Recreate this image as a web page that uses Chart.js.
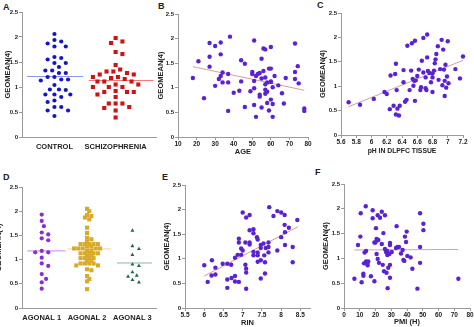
<!DOCTYPE html>
<html>
<head>
<meta charset="UTF-8">
<title>GEOMEAN(4) panels</title>
<script src="https://cdn.jsdelivr.net/npm/chart.js@4.4.0/dist/chart.umd.min.js"></script>
<style>
  body { margin: 0; width: 474px; height: 327px; position: relative; overflow: hidden; background: #fff;
         font-family: 'Liberation Sans', Arial, sans-serif; }
  canvas { position: absolute; }
  .tag { position: absolute; font-weight: bold; font-size: 9px; color: #222; }
</style>
</head>
<body>
<div class="tag" style="left:3px;top:2px">A</div>
<div class="tag" style="left:158px;top:1px">B</div>
<div class="tag" style="left:317px;top:0px">C</div>
<div class="tag" style="left:3px;top:172px">D</div>
<div class="tag" style="left:162px;top:172px">E</div>
<div class="tag" style="left:315px;top:167px">F</div>
<canvas id="cA"></canvas>
<canvas id="cB"></canvas>
<canvas id="cC"></canvas>
<canvas id="cD"></canvas>
<canvas id="cE"></canvas>
<canvas id="cF"></canvas>
<script>
// ---- data ----
const yTicks = [0, 0.5, 1, 1.5, 2, 2.5];

// A: control vs schizophrenia
const groupsA = ['CONTROL', 'SCHIZOPHRENIA'];
const control = [2.06, 1.94, 1.91, 1.87, 1.81, 1.81, 1.60, 1.58, 1.55, 1.48, 1.48, 1.40, 1.33, 1.33, 1.28, 1.28,
                 1.20, 1.20, 1.15, 1.15, 1.13, 1.04, 0.95, 0.95, 0.94, 0.85, 0.85, 0.85, 0.80, 0.73, 0.70,
                 0.60, 0.60, 0.53, 0.53, 0.42];
const schizo = [1.98, 1.91, 1.88, 1.70, 1.66, 1.44, 1.35, 1.31, 1.31, 1.28, 1.25, 1.25, 1.20, 1.20, 1.18, 1.16,
                1.11, 1.11, 1.11, 1.05, 1.05, 1.00, 1.00, 1.00, 0.92, 0.90, 0.90, 0.90, 0.85, 0.80,
                0.67, 0.67, 0.67, 0.60, 0.58, 0.53, 0.39];
const meansA = [1.21, 1.13];
const meanSpanA = [[-0.45, 0.47], [0.56, 1.62]];

// B: age
const ageTicks = [10, 20, 30, 40, 50, 60, 70, 80];
const ageData = [[18,1.20],[21,1.54],[24,0.79],[27,1.91],[27,1.63],[27,1.43],[30,1.85],[30,1.04],[32,1.18],
  [33,1.92],[33,1.68],[33,1.24],[34,1.31],[34,1.11],[37,1.28],[37,1.11],[37,0.53],[38,2.04],[40,0.90],
  [43,0.94],[44,1.56],[44,1.13],[46,1.49],[46,0.61],[49,0.93],[50,1.32],[50,1.28],[51,1.14],[51,0.99],
  [51,0.65],[51,1.96],[52,0.41],[52,1.24],[53,1.28],[54,1.30],[54,0.86],[54,0.82],[55,1.59],[55,1.19],
  [55,0.60],[56,1.80],[56,1.34],[57,1.21],[57,0.96],[57,0.88],[57,1.78],[57,1.07],[58,0.92],[58,1.11],
  [58,0.69],[59,0.54],[59,1.39],[60,1.12],[60,0.76],[60,1.83],[60,1.39],[60,1.13],[61,1.01],[61,0.67],
  [61,0.41],[62,1.24],[64,1.05],[66,0.89],[67,0.68],[68,1.20],[73,1.90],[73,1.32],[73,1.18],[74.5,1.44],
  [75,1.09],[78,0.58],[78,0.53]];
const ageFit = [[18, 1.43], [78, 0.95]];

// C: pH
const phTicks = [5.6, 5.8, 6, 6.2, 6.4, 6.6, 6.8, 7, 7.2];
const phData = [[5.70,0.67],[5.85,0.62],[6.03,0.74],[6.17,0.88],[6.20,0.84],[6.24,0.53],[6.25,1.22],[6.29,0.60],
  [6.31,1.25],[6.32,1.46],[6.32,0.42],[6.33,0.92],[6.34,0.54],[6.36,0.40],[6.37,0.60],[6.42,1.33],[6.42,1.08],
  [6.44,0.68],[6.46,0.72],[6.47,1.83],[6.50,0.92],[6.52,1.32],[6.53,1.88],[6.54,1.15],[6.55,1.01],[6.56,1.11],
  [6.57,1.93],[6.57,0.70],[6.58,1.12],[6.60,1.21],[6.62,1.34],[6.64,0.92],[6.65,0.98],[6.66,1.52],[6.68,1.99],
  [6.68,1.28],[6.71,1.18],[6.71,0.96],[6.72,0.92],[6.73,2.06],[6.73,1.59],[6.74,1.31],[6.76,1.27],[6.78,1.08],
  [6.80,0.88],[6.80,1.18],[6.80,1.26],[6.82,1.32],[6.83,1.47],[6.84,1.55],[6.85,1.66],[6.87,1.82],[6.88,1.13],
  [6.90,1.35],[6.92,1.95],[6.93,1.02],[6.94,1.75],[6.95,1.34],[6.96,0.80],[6.96,1.11],[6.97,1.44],[6.98,0.97],
  [6.99,1.20],[7.00,1.92],[7.01,1.06],[7.10,1.35],[7.16,1.16],[7.20,1.61]];
const phFit = [[5.70, 0.58], [7.20, 1.53]];

// D: agonal groups
const groupsD = ['AGONAL 1', 'AGONAL 2', 'AGONAL 3'];
const agonal1 = [1.93, 1.80, 1.69, 1.56, 1.52, 1.44, 1.40, 1.18, 1.15, 1.15, 1.04, 0.92, 0.87, 0.70, 0.60, 0.53, 0.40];
const agonal2 = [2.05, 2.00, 1.92, 1.90, 1.87, 1.83, 1.66, 1.55, 1.45, 1.42, 1.37,
                 1.32, 1.32, 1.32, 1.32, 1.32, 1.27, 1.27, 1.23, 1.23, 1.23, 1.23, 1.23, 1.18, 1.18,
                 1.13, 1.13, 1.13, 1.13, 1.13, 1.08, 1.08, 1.03, 1.03, 1.03, 1.03, 0.98, 0.98,
                 0.92, 0.92, 0.92, 0.92, 0.88, 0.88, 0.80, 0.78, 0.66, 0.60, 0.55, 0.39];
const agonal3 = [1.60, 1.28, 1.22, 1.10, 0.90, 0.87, 0.74, 0.67, 0.65, 0.58, 0.53];
const meansD = [1.18, 1.22, 0.93];
const meanSpanD = [[-0.32, 0.53], [0.57, 1.53], [1.66, 2.43]];

// E: RIN
const rinTicks = [5.5, 6, 6.5, 7, 7.5, 8, 8.5];
const rinData = [[6.0,0.87],[6.09,0.53],[6.19,0.66],[6.2,0.97],[6.29,0.82],[6.29,0.68],[6.48,0.90],[6.6,0.90],
  [6.6,0.58],[6.6,0.41],[6.7,0.88],[6.71,0.61],[6.8,0.65],[6.8,1.02],[6.8,0.54],[6.87,1.08],[6.9,0.53],[6.9,1.41],
  [6.9,1.33],[6.96,1.21],[6.96,1.08],[7.0,1.94],[7.0,1.17],[7.07,1.33],[7.07,0.88],[7.09,1.84],[7.09,0.80],
  [7.09,0.72],[7.09,0.39],[7.18,1.89],[7.18,1.33],[7.18,1.29],[7.18,1.58],[7.28,1.60],[7.28,1.52],[7.28,1.14],
  [7.28,1.07],[7.37,1.44],[7.39,1.39],[7.39,1.13],[7.39,1.07],[7.39,0.94],[7.47,1.28],[7.47,1.22],[7.47,0.97],
  [7.47,0.60],[7.54,1.31],[7.56,1.07],[7.58,0.93],[7.58,0.70],[7.6,1.22],[7.67,1.33],[7.67,1.24],[7.67,1.13],
  [7.69,2.05],[7.8,1.87],[7.9,1.97],[7.9,1.17],[8.0,1.94],[8.0,1.44],[8.09,1.89],[8.09,1.69],[8.1,1.54],
  [8.1,1.28],[8.2,1.63],[8.3,1.24],[8.3,0.93],[8.42,1.79]];
const rinFit = [[6.0, 0.65], [8.43, 1.65]];

// F: PMI
const pmiTicks = [0, 10, 20, 30, 40, 50, 60, 70, 80];
const pmiData = [[6.6,0.59],[8.9,1.27],[10.6,1.91],[10.4,1.44],[11.2,0.52],[12.3,0.69],[12.3,0.65],[12.7,0.90],
  [13.1,1.12],[13.8,2.05],[14,1.15],[14,0.94],[14.8,0.90],[15,0.86],[15.4,0.94],[17.1,0.64],[18.2,1.97],
  [18.2,1.81],[19.3,0.54],[19.3,1.32],[20,1.32],[20.3,1.61],[20.7,1.39],[20.7,1.09],[21.4,1.87],[21.4,0.99],
  [21.8,1.37],[22.2,0.91],[22.9,1.82],[24,1.94],[24,1.29],[24.6,0.87],[25,1.51],[25.4,0.74],[26,1.87],
  [26,1.19],[26.7,1.13],[27,0.71],[27.5,1.15],[27.5,1.07],[27.7,0.40],[28.1,0.81],[28.8,1.09],[29.2,1.31],
  [29.2,1.27],[29.2,0.87],[29.2,0.61],[30.3,1.13],[33,1.21],[33.4,1.65],[34,1.23],[34.9,1.23],[36.2,1.10],
  [37.2,1.17],[37.7,0.97],[38.3,0.95],[38.7,1.44],[39.4,1.33],[39.8,1.54],[40.2,1.05],[42.3,1.02],[43.4,0.79],
  [46.6,0.39],[48.3,1.91],[48.3,1.23],[48.3,0.91],[50.4,1.70],[50.4,1.57],[72.6,0.59]];
const pmiFit = [[6.6, 1.17], [72.6, 1.18]];

// ---- helpers ----
const FONT = "'Liberation Sans', Arial, sans-serif";
const AXIS = '#9a9a9a';
const PURPLE = '#5a22d2';

// column scatter layout: each value goes to the nearest free horizontal slot
function swarm(values, center, pxX, pxY, gap, step) {
  const placed = [];
  const out = [];
  const order = values.map((v, i) => i).sort((a, b) => values[b] - values[a]);
  order.forEach(i => {
    const py = values[i] * pxY;
    for (let k = 0; ; k++) {
      const off = (k % 2 ? 1 : -1) * Math.ceil(k / 2) * step;
      if (placed.every(p => Math.hypot(p.x - off, p.y - py) >= gap)) {
        placed.push({x: off, y: py});
        out[i] = {x: center + off / pxX, y: values[i]};
        break;
      }
    }
  });
  return out;
}

const pts = arr => arr.map(p => ({x: p[0], y: p[1]}));

function dots(data, color, style, r) {
  return {data, pointStyle: style || 'circle', pointRadius: r || 2.2, backgroundColor: color,
          borderColor: color, borderWidth: 0, clip: false};
}
function seg(data, color) {
  return {data, showLine: true, pointRadius: 0, borderColor: color, borderWidth: 1, clip: false};
}

function panel(id, box, x, y, datasets) {
  const cv = document.getElementById(id);
  cv.width = box.w; cv.height = box.h;
  cv.style.left = box.x + 'px'; cv.style.top = box.y + 'px';
  new Chart(cv, {
    type: 'scatter',
    data: {datasets},
    options: {
      responsive: false, animation: false, events: [],
      layout: {padding: {left: 0, top: box.t, right: box.w - box.r, bottom: 0}},
      plugins: {legend: {display: false}, tooltip: {enabled: false}},
      scales: {
        x: {
          type: 'linear', min: x.min, max: x.max,
          afterBuildTicks: s => { s.ticks = x.ticks.map(v => ({value: v})); },
          afterFit: s => { s.height = box.h - box.b; s.paddingLeft = 0; s.paddingRight = 0; },
          grid: {drawOnChartArea: false, drawTicks: !x.labels, color: AXIS, tickLength: 3},
          border: {color: AXIS},
          ticks: {
            autoSkip: false, maxRotation: 0, color: '#222',
            padding: x.labels ? 5 : 0,
            font: {family: FONT, size: x.labels ? 7.5 : 6.5, weight: 'bold'},
            callback: v => x.labels ? x.labels[v] : String(v)
          },
          title: {display: !!x.title, text: x.title, color: '#222',
                  font: {family: FONT, size: x.titleSize || 7.5, weight: 'bold'},
                  padding: {top: 0, bottom: x.titlePad || 0}}
        },
        y: {
          type: 'linear', min: 0, max: 2.5,
          afterBuildTicks: s => { s.ticks = yTicks.map(v => ({value: v})); },
          afterFit: s => { s.width = box.l; s.paddingTop = 0; s.paddingBottom = 0; },
          grid: {drawOnChartArea: false, color: AXIS, tickLength: 3},
          border: {color: AXIS},
          ticks: {color: '#222', padding: 1, font: {family: FONT, size: 6, weight: 'bold'},
                  callback: v => String(v)},
          title: {display: true, text: 'GEOMEAN(4)', color: '#222',
                  font: {family: FONT, size: 7.5, weight: 'bold'},
                  padding: {top: y.titlePad, bottom: 0}}
        }
      }
    }
  });
}

// ---- A ----
panel('cA', {x: 0, y: 0, w: 160, h: 162, l: 22, t: 12, r: 158, b: 137},
  {min: -0.53, max: 1.66, ticks: [0, 1], labels: groupsA},
  {titlePad: 3.5},
  [
    dots(swarm(control, 0, 62, 50, 6, 2.3), '#1414c8', 'circle', 2.1),
    dots(swarm(schizo, 1, 62, 50, 6, 2.3), '#cc1414', 'rect', 2.9),
    seg(meanSpanA[0].map(v => ({x: v, y: meansA[0]})), '#8a96f0'),
    seg(meanSpanA[1].map(v => ({x: v, y: meansA[1]})), '#f07a7a')
  ]);

// ---- B ----
panel('cB', {x: 156, y: 0, w: 156, h: 162, l: 22, t: 14, r: 152, b: 137},
  {min: 10, max: 80, ticks: ageTicks, title: 'AGE', titlePad: 5.5},
  {titlePad: 0.5},
  [dots(pts(ageData), PURPLE), seg(pts(ageFit), '#d8a08c')]);

// ---- C ----
panel('cC', {x: 312, y: 0, w: 162, h: 162, l: 29, t: 13, r: 151, b: 135},
  {min: 5.6, max: 7.2, ticks: phTicks, title: 'pH IN DLPFC TISSUE', titleSize: 6.8, titlePad: 7},
  {titlePad: 6.5},
  [dots(pts(phData), PURPLE), seg(pts(phFit), '#c8a0b0')]);

// ---- D ----
panel('cD', {x: -6, y: 165, w: 166, h: 162, l: 28, t: 22, r: 164, b: 143},
  {min: -0.435, max: 2.52, ticks: [0, 1, 2], labels: groupsD},
  {titlePad: 0.5},
  [
    dots(swarm(agonal1, 0, 46, 48.4, 5.5, 2.2), '#8a2ed0', 'circle', 2.1),
    dots(swarm(agonal2, 1, 46, 48.4, 3.2, 2.2), '#d8aa28', 'rect', 2.9),
    dots(swarm(agonal3, 2, 46, 48.4, 5.5, 2.2), '#1e6a48', 'triangle', 2.3),
    seg(meanSpanD[0].map(v => ({x: v, y: meansD[0]})), '#c88ae8'),
    seg(meanSpanD[1].map(v => ({x: v, y: meansD[1]})), '#e2d8a0'),
    seg(meanSpanD[2].map(v => ({x: v, y: meansD[2]})), '#8ab8a8')
  ]);

// ---- E ----
panel('cE', {x: 156, y: 165, w: 158, h: 162, l: 29, t: 20, r: 154, b: 143},
  {min: 5.5, max: 8.75, ticks: rinTicks, title: 'RIN', titlePad: 0},
  {titlePad: 6.5},
  [dots(pts(rinData), PURPLE), seg(pts(rinFit), '#d89890')]);

// ---- F ----
panel('cF', {x: 312, y: 165, w: 162, h: 162, l: 32, t: 19, r: 158, b: 143},
  {min: 0, max: 80, ticks: pmiTicks, title: 'PMI (H)', titlePad: 1},
  {titlePad: 9.5},
  [dots(pts(pmiData), PURPLE), seg(pts(pmiFit), '#d8a0a8')]);
</script>
</body>
</html>
